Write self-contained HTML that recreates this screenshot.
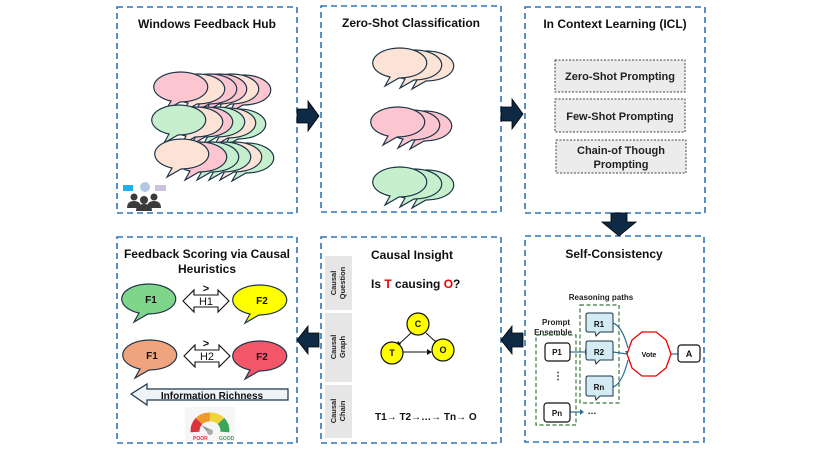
<!DOCTYPE html>
<html><head><meta charset="utf-8"><style>
html,body{margin:0;padding:0;background:#fff;}
svg{display:block;font-family:"Liberation Sans",sans-serif;}
</style></head><body>
<svg width="830" height="467" viewBox="0 0 830 467" xmlns="http://www.w3.org/2000/svg">
<defs>
<path id="b" d="M -12 14 L -17 23 L -3 15 A 27 15 0 1 0 -12 14 Z" stroke="#1d3447" stroke-width="1.2"/>
</defs>
<g fill="none" stroke="#2e75b6" stroke-width="1.6" stroke-dasharray="6,4">
<rect x="117" y="7" width="180" height="206"/>
<rect x="321" y="6" width="180" height="206"/>
<rect x="525" y="7" width="180" height="206"/>
<rect x="525" y="236" width="179" height="206"/>
<rect x="321" y="237" width="180" height="206"/>
<rect x="117" y="237" width="180" height="206"/>
</g>
<g fill="#0f2a44" stroke="#000" stroke-width="0.8">
<polygon points="297,109 308,109 308,101 319,116 308,131 308,123 297,123"/>
<polygon points="501,107 512,107 512,99 523,114 512,129 512,121 501,121"/>
<polygon points="611,213 627,213 627,222 636,222 619,236 602,222 611,222"/>
<polygon points="523,333 512,333 512,326 501,340 512,354 512,347 523,347"/>
<polygon points="319,333 308,333 308,326 297,340 308,354 308,347 319,347"/>
</g>
<g font-weight="bold" font-size="12" fill="#111" text-anchor="middle">
<text x="207" y="28">Windows Feedback Hub</text>
<text x="411" y="27">Zero-Shot Classification</text>
<text x="615" y="28">In Context Learning (ICL)</text>
<text x="614" y="258">Self-Consistency</text>
<text x="412" y="259">Causal Insight</text>
<text x="207" y="258">Feedback Scoring via Causal</text>
<text x="207" y="273">Heuristics</text>
</g>
<!-- hub bubbles -->
<g>
<use href="#b" fill="#fcc5cf" transform="translate(246,90)"/>
<use href="#b" fill="#fce3d6" transform="translate(234,89)"/>
<use href="#b" fill="#fcc5cf" transform="translate(222,89)"/>
<use href="#b" fill="#fcc5cf" transform="translate(212,89)"/>
<use href="#b" fill="#fce3d6" transform="translate(200,89)"/>
<use href="#b" fill="#fcc5cf" transform="translate(183,87)"/>
<use href="#b" fill="#c6efce" transform="translate(241,124)"/>
<use href="#b" fill="#fce3d6" transform="translate(231,123)"/>
<use href="#b" fill="#c6efce" transform="translate(220,122)"/>
<use href="#b" fill="#fcc5cf" transform="translate(208,122)"/>
<use href="#b" fill="#fce3d6" transform="translate(198,122)"/>
<use href="#b" fill="#c6efce" transform="translate(181,120)"/>
<use href="#b" fill="#c6efce" transform="translate(249,158)"/>
<use href="#b" fill="#fce3d6" transform="translate(237,157)"/>
<use href="#b" fill="#c6efce" transform="translate(226,157)"/>
<use href="#b" fill="#c6efce" transform="translate(214,157)"/>
<use href="#b" fill="#fcc5cf" transform="translate(202,157)"/>
<use href="#b" fill="#fce3d6" transform="translate(184,154)"/>
</g>
<!-- people icon -->
<rect x="123" y="185" width="10" height="6" fill="#1fb0f0"/>
<circle cx="145" cy="187" r="5" fill="#b4c8e4"/>
<rect x="155" y="185" width="11" height="6" fill="#cdc3dd"/>
<g fill="#3a3a3a">
<circle cx="134" cy="197" r="3.5"/><path d="M127 208 Q127 201 134 201 Q141 201 141 208Z"/>
<circle cx="154" cy="197" r="3.5"/><path d="M147 208 Q147 201 154 201 Q161 201 161 208Z"/>
<circle cx="144" cy="200" r="4"/><path d="M136 211 Q136 204 144 204 Q152 204 152 211Z"/>
</g>
<!-- zero-shot bubbles -->
<g>
<use href="#b" fill="#fce3d6" transform="translate(429,66)"/>
<use href="#b" fill="#fce3d6" transform="translate(417,65)"/>
<use href="#b" fill="#fce3d6" transform="translate(402,63)"/>
<use href="#b" fill="#fcc5cf" transform="translate(427,126)"/>
<use href="#b" fill="#fcc5cf" transform="translate(415,125)"/>
<use href="#b" fill="#fcc5cf" transform="translate(400,122)"/>
<use href="#b" fill="#c6efce" transform="translate(429,185)"/>
<use href="#b" fill="#c6efce" transform="translate(417,184)"/>
<use href="#b" fill="#c6efce" transform="translate(402,182)"/>
</g>
<!-- ICL boxes -->
<g fill="#ececec" stroke="#444" stroke-width="1" stroke-dasharray="2,1.5">
<rect x="555" y="60" width="130" height="32"/>
<rect x="555" y="99" width="130" height="33"/>
<rect x="556" y="140" width="130" height="33"/>
</g>
<g font-weight="bold" font-size="11" fill="#222" text-anchor="middle">
<text x="620" y="80">Zero-Shot Prompting</text>
<text x="620" y="120">Few-Shot Prompting</text>
<text x="621" y="154">Chain-of Though</text>
<text x="621" y="168">Prompting</text>
</g>
<!-- self consistency -->
<g font-weight="bold" font-size="8" fill="#222" text-anchor="middle">
<text x="601" y="300">Reasoning paths</text>
<text x="556" y="325">Prompt</text>
<text x="553" y="335">Ensemble</text>
</g>
<g fill="none" stroke="#3a7a3a" stroke-width="1.2" stroke-dasharray="4,2.5">
<rect x="580" y="305" width="39" height="98"/>
<rect x="536" y="335" width="40" height="90"/>
</g>
<g stroke="#2e6f96" stroke-width="1.2" fill="none">
<line x1="570" y1="352" x2="585" y2="352"/>
<line x1="570" y1="412" x2="580" y2="412"/>
<path d="M613 323 Q622 326 628 348"/>
<line x1="613" y1="352" x2="627" y2="354"/>
<path d="M613 387 Q622 384 628 360"/>
<line x1="671" y1="354" x2="678" y2="354"/>
</g>
<g fill="#2e6f96"><polygon points="585,349 585,355 589,352"/><polygon points="580,409 580,415 584,412"/><polygon points="625,351 631,351 628,356"/></g>
<g stroke="#111" stroke-width="1.2">
<rect x="545" y="343" width="25" height="18" rx="3" fill="#fff"/>
<rect x="544" y="403" width="26" height="19" rx="3" fill="#fff"/>
<rect x="678" y="345" width="22" height="17" rx="3" fill="#fff"/>
</g>
<g stroke="#1d3447" stroke-width="1" fill="#d3ebf3">
<path d="M586 315 Q586 313 588 313 L611 313 Q613 313 613 315 L613 332 L600 332 L596 336 L595 332 L588 332 Q586 332 586 330Z"/>
<path d="M586 343 Q586 341 588 341 L611 341 Q613 341 613 343 L613 360 L600 360 L596 364 L595 360 L588 360 Q586 360 586 358Z"/>
<path d="M586 378 Q586 376 588 376 L611 376 Q613 376 613 378 L613 396 L600 396 L596 400 L595 396 L588 396 Q586 396 586 394Z"/>
</g>
<polygon points="642,332 656,332 666,340 671,354 666,368 656,376 642,376 632,368 627,354 632,340" fill="#fff" stroke="#e00" stroke-width="1.3"/>
<g font-weight="bold" font-size="8" fill="#111" text-anchor="middle">
<text x="557" y="355">P1</text><text x="557" y="416">Pn</text><text x="689" y="357" font-size="9">A</text>
<text x="599" y="327">R1</text><text x="599" y="355">R2</text><text x="599" y="390">Rn</text>
<text x="649" y="357" font-size="7">Vote</text>
<text x="558" y="379" font-size="10">⋮</text><text x="592" y="414" font-size="9">…</text>
</g>
<!-- causal insight -->
<g fill="#e6e6e6">
<rect x="325" y="256" width="27" height="54"/>
<rect x="325" y="313" width="27" height="69"/>
<rect x="325" y="385" width="27" height="53"/>
</g>
<g font-weight="bold" font-size="7.5" fill="#222" text-anchor="middle">
<text transform="translate(338,283) rotate(-90)"><tspan x="0" y="-2">Causal</tspan><tspan x="0" y="7">Question</tspan></text>
<text transform="translate(338,347) rotate(-90)"><tspan x="0" y="-2">Causal</tspan><tspan x="0" y="7">Graph</tspan></text>
<text transform="translate(338,411) rotate(-90)"><tspan x="0" y="-2">Causal</tspan><tspan x="0" y="7">Chain</tspan></text>
</g>
<text x="371" y="288" font-weight="bold" font-size="12" fill="#111">Is <tspan fill="#e00">T</tspan> causing <tspan fill="#e00">O</tspan>?</text>
<g stroke="#111" stroke-width="1">
<line x1="411" y1="333" x2="398" y2="345"/><line x1="426" y1="333" x2="437" y2="343"/><line x1="403" y1="352" x2="430" y2="352"/>
</g>
<g fill="#111"><polygon points="396,347 398,341 401,344"/><polygon points="439,345 433,344 436,340"/><polygon points="432,352 427,349 427,355"/></g>
<g fill="#ffff00" stroke="#111" stroke-width="1.2">
<circle cx="418" cy="324" r="11"/><circle cx="392" cy="353" r="11"/><circle cx="443" cy="350" r="11"/>
</g>
<g font-weight="bold" font-size="9" fill="#111" text-anchor="middle">
<text x="418" y="327">C</text><text x="392" y="356">T</text><text x="443" y="353">O</text>
</g>
<text x="375" y="420" font-weight="bold" font-size="10" fill="#111">T1→ T2→…→ Tn→ O</text>
<!-- feedback scoring -->
<use href="#b" fill="#7fd68b" transform="translate(151,299)"/>
<use href="#b" fill="#ffff00" transform="translate(262,300)"/>
<use href="#b" fill="#f0a47e" transform="translate(152,355)"/>
<use href="#b" fill="#f4566a" transform="translate(262,356)"/>
<g font-weight="bold" font-size="10" fill="#111" text-anchor="middle">
<text x="151" y="303">F1</text><text x="262" y="304">F2</text>
<text x="152" y="359">F1</text><text x="262" y="360">F2</text>
</g>
<g fill="#fff" stroke="#111" stroke-width="1.1">
<polygon points="183,301 194,290 194,295 218,295 218,290 229,301 218,312 218,307 194,307 194,312"/>
<polygon points="184,356 195,345 195,350 219,350 219,345 230,356 219,367 219,362 195,362 195,367"/>
</g>
<g font-size="11" fill="#111" text-anchor="middle">
<text x="206" y="292" font-weight="bold">&gt;</text><text x="206" y="305">H1</text>
<text x="206" y="347" font-weight="bold">&gt;</text><text x="207" y="360">H2</text>
</g>
<polygon points="131,394 147,384 147,389 288,389 288,400 147,400 147,405" fill="#eef3f8" stroke="#1d3447" stroke-width="1.2"/>
<text x="212" y="399" font-weight="bold" font-size="10" fill="#111" text-anchor="middle">Information Richness</text>
<rect x="185" y="407" width="50" height="34" fill="#f6f6f6"/>
<g fill="none" stroke-width="9">
<path d="M195 432 A15 15 0 0 1 199 421" stroke="#d9343c"/>
<path d="M199 421 A15 15 0 0 1 210 417" stroke="#f09a2c"/>
<path d="M210 417 A15 15 0 0 1 221 421" stroke="#f1d43a"/>
<path d="M221 421 A15 15 0 0 1 225 432" stroke="#3aa65a"/>
</g>
<polygon points="201,425 212,430 209,434" fill="#999"/>
<circle cx="210" cy="432" r="3" fill="#aaa"/>
<text x="193" y="440" font-size="5" fill="#d9343c" font-weight="bold">POOR</text>
<text x="219" y="440" font-size="5" fill="#3aa65a" font-weight="bold">GOOD</text>
</svg>
</body></html>
